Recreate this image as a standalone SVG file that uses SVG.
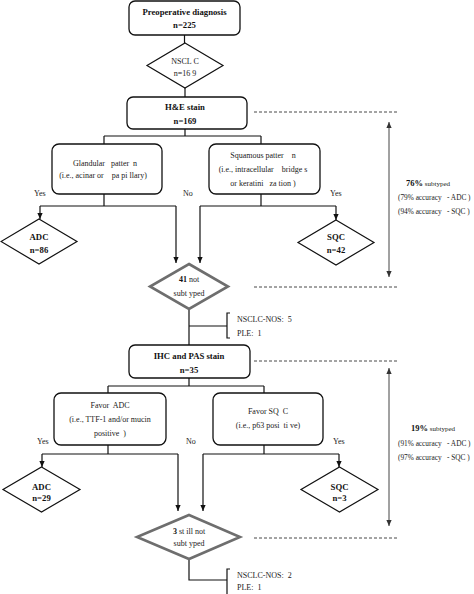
<svg xmlns="http://www.w3.org/2000/svg" width="474" height="594" viewBox="0 0 474 594">
<defs>
<style>
.box{fill:#fff;stroke:#111;stroke-width:1.3}
.dia{fill:#fff;stroke:#111;stroke-width:1.2}
.dia2{fill:#fff;stroke:#6e6e6e;stroke-width:2.6}
.ln{fill:none;stroke:#111;stroke-width:1.2}
.an{fill:none;stroke:#444;stroke-width:1}
.dash{fill:none;stroke:#333;stroke-width:0.9;stroke-dasharray:3 2}
text{font-family:"Liberation Serif","Times New Roman",serif;fill:#1a1a1a;white-space:pre}
.b{font-weight:bold;font-size:8.7px;text-anchor:middle;fill:#111}
.r{font-size:8px;text-anchor:middle}
.l{font-size:8px}
.s{font-size:7.3px}
.sm{font-size:7px;text-anchor:middle}
</style>
<marker id="ah" viewBox="0 0 8 8" refX="8" refY="4" markerWidth="6" markerHeight="6" markerUnits="userSpaceOnUse" orient="auto">
<path d="M0,0.5 L8,4 L0,7.5 Z" fill="#111"/>
</marker>
<marker id="ag" viewBox="0 0 8 8" refX="8" refY="4" markerWidth="6" markerHeight="6" markerUnits="userSpaceOnUse" orient="auto-start-reverse">
<path d="M0,0.5 L8,4 L0,7.5 Z" fill="#333"/>
</marker>
</defs>

<g id="connectors">
<path class="ln" d="M184.5,35 V43"/>
<path class="ln" d="M185,88 V97"/>
<path class="ln" d="M185,129 V136 M104,136 H261 M104,136 V144 M261,136 V144"/>
<path class="ln" d="M104,194 V206 M40,206 H176"/>
<path class="ln" d="M40,206 V219" marker-end="url(#ah)"/>
<path class="ln" d="M176,206 V263" marker-end="url(#ah)"/>
<path class="ln" d="M261,194 V206 M200,206 H336"/>
<path class="ln" d="M336,206 V220" marker-end="url(#ah)"/>
<path class="ln" d="M200,206 V263" marker-end="url(#ah)"/>
<path class="ln" d="M189,309 V345 M189,326 H227"/>
<path class="ln" d="M230,313 H227 V338 H230"/>
<path class="ln" d="M189,378 V386 M108,386 H264 M108,386 V393 M264,386 V393"/>
<path class="ln" d="M108,445 V454 M42,454 H178"/>
<path class="ln" d="M42,454 V467" marker-end="url(#ah)"/>
<path class="ln" d="M178,454 V511" marker-end="url(#ah)"/>
<path class="ln" d="M264,445 V454 M203,454 H339"/>
<path class="ln" d="M339,454 V467" marker-end="url(#ah)"/>
<path class="ln" d="M203,454 V511" marker-end="url(#ah)"/>
<path class="ln" d="M189,559 V580 H227"/>
<path class="ln" d="M230,569 H227 V596"/>
<path class="dash" d="M254,112 H397 M254,287 H397 M254,361 H397 M254,538 H397"/>
<path class="an" d="M389,122 V277" marker-start="url(#ag)" marker-end="url(#ag)"/>
<path class="an" d="M389,368 V526" marker-start="url(#ag)" marker-end="url(#ag)"/>
</g>

<g id="preop">
<rect class="box" x="129" y="1" width="111" height="34" rx="6"/>
<text class="b" x="184.5" y="15">Preoperative diagnosis</text>
<text class="b" x="184.5" y="28">n=225</text>
</g>
<g id="nsclc">
<polygon class="dia" points="185,43 223,65.5 185,88 147,65.5"/>
<text class="r" x="185" y="64">NSCL C</text>
<text class="r" x="185" y="76">n=16 9</text>
</g>
<g id="he">
<rect class="box" x="127" y="97" width="120" height="32" rx="6"/>
<text class="b" x="185" y="110">H&amp;E stain</text>
<text class="b" x="185" y="124">n=169</text>
</g>
<g id="glandular">
<rect class="box" x="52" y="144" width="110" height="50" rx="7"/>
<text class="r" x="105" y="166">Glandular   patter  n</text>
<text class="r" x="103" y="178">(i.e., acinar or    pa pi llary)</text>
</g>
<g id="squamous">
<rect class="box" x="209" y="144" width="111" height="50" rx="7"/>
<text class="r" x="263" y="158">Squamous patter    n</text>
<text class="r" x="263" y="172">(i.e., intracellular    bridge s</text>
<text class="r" x="263" y="186">or keratini   za tion )</text>
</g>
<g id="labels1">
<text class="l" x="34" y="196">Yes</text>
<text class="l" x="183" y="196">No</text>
<text class="l" x="330" y="196">Yes</text>
</g>
<g id="adc1">
<polygon class="dia" points="39,219 77,241.5 39,264 1,241.5"/>
<text class="b" x="39" y="240">ADC</text>
<text class="b" x="39" y="253">n=86</text>
</g>
<g id="sqc1">
<polygon class="dia" points="336,220 374,242.5 336,265 298,242.5"/>
<text class="b" x="336" y="240">SQC</text>
<text class="b" x="336" y="253">n=42</text>
</g>
<g id="notsub1">
<polygon class="dia2" points="189,264 228,286.5 189,309 150,286.5"/>
<text class="r" x="189" y="282"><tspan font-weight="bold" fill="#111">41</tspan> not</text>
<text class="r" x="189" y="296">subt yped</text>
</g>
<g id="rem1">
<text class="l" x="237" y="322">NSCLC-NOS:  5</text>
<text class="l" x="237" y="336">PLE:  1</text>
</g>
<g id="ann1">
<text class="sm" x="428" y="186"><tspan font-weight="bold" font-size="8.5px" fill="#111">76%</tspan> subtyped</text>
<text class="s" x="398" y="200">(79% accuracy   - ADC )</text>
<text class="s" x="398" y="214">(94% accuracy   - SQC )</text>
</g>
<g id="ihc">
<rect class="box" x="129" y="345" width="121" height="33" rx="6"/>
<text class="b" x="189" y="359">IHC and PAS stain</text>
<text class="b" x="189" y="373">n=35</text>
</g>
<g id="favadc">
<rect class="box" x="54" y="393" width="112" height="52" rx="7"/>
<text class="r" x="110" y="408">Favor  ADC</text>
<text class="r" x="110" y="422">(i.e., TTF-1 and/or mucin</text>
<text class="r" x="110" y="436">positive  )</text>
</g>
<g id="favsqc">
<rect class="box" x="213" y="393" width="110" height="52" rx="7"/>
<text class="r" x="268" y="414">Favor SQ  C</text>
<text class="r" x="268" y="428">(i.e., p63 posi  ti ve)</text>
</g>
<g id="labels2">
<text class="l" x="37" y="444">Yes</text>
<text class="l" x="186" y="444">No</text>
<text class="l" x="333" y="444">Yes</text>
</g>
<g id="adc2">
<polygon class="dia" points="41.5,467 80,489.5 41.5,512 3,489.5"/>
<text class="b" x="41.5" y="490">ADC</text>
<text class="b" x="41.5" y="501">n=29</text>
</g>
<g id="sqc2">
<polygon class="dia" points="339.5,467 378,489.5 339.5,512 301,489.5"/>
<text class="b" x="339.5" y="490">SQC</text>
<text class="b" x="339.5" y="501">n=3</text>
</g>
<g id="notsub2">
<polygon class="dia2" points="189,515 240,537 189,559 137,537"/>
<text class="r" x="189" y="534"><tspan font-weight="bold" fill="#111">3</tspan> st ill not</text>
<text class="r" x="189" y="546">subt yped</text>
</g>
<g id="rem2">
<text class="l" x="237" y="578">NSCLC-NOS:  2</text>
<text class="l" x="237" y="590">PLE:  1</text>
</g>
<g id="ann2">
<text class="sm" x="433" y="431"><tspan font-weight="bold" font-size="8.5px" fill="#111">19%</tspan> subtyped</text>
<text class="s" x="398" y="446">(91% accuracy   - ADC )</text>
<text class="s" x="398" y="460">(97% accuracy   - SQC )</text>
</g>
</svg>
